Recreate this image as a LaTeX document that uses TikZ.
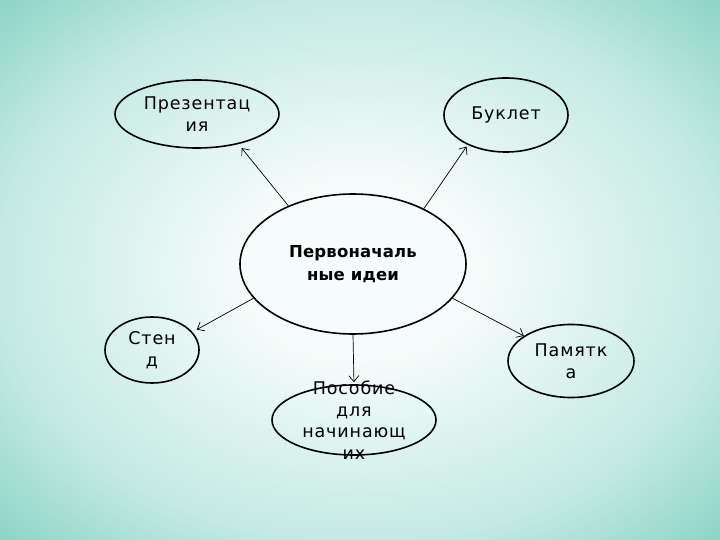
\documentclass[tikz,border=0pt]{standalone}
\usepackage{fontspec}
\setmainfont{DejaVu Sans}[LetterSpace=5]
\usepackage{tikz}
\usetikzlibrary{positioning, arrows.meta, shapes.geometric}
\definecolor{bg-in}{RGB}{246,252,251}
\definecolor{bg-mid}{RGB}{196,234,227}
\definecolor{bg-out}{RGB}{138,211,197}
\pgfdeclareradialshading{bgglow}{\pgfpoint{0bp}{0bp}}{color(0bp)=(bg-in); color(8bp)=(bg-in); color(25bp)=(bg-mid); color(36bp)=(bg-out); color(50bp)=(bg-out)}

\begin{document}
\begin{tikzpicture}[
    x=1pt, y=-1pt,
    bubble/.style={draw, ellipse, line width=1.6pt, inner sep=0pt, align=center,
                   font=\fontsize{17.5}{22}\selectfont},
    txt/.style={align=center, font=\fontsize{17.5}{21.5}\selectfont},
    arr/.style={-{Straight Barb[length=6pt, width=10pt]}, line width=0.7pt},
]
    % Background
    \shade[shading=bgglow] (0,0) rectangle (720,540);
    \useasboundingbox (0,0) rectangle (720,540);

    % Ideas
    \node[bubble, minimum width=226, minimum height=140,
          font=\fontsize{16.5}{23}\bfseries\addfontfeature{LetterSpace=1}] (main) at (353,264) {Первоначаль\\ные идеи};
    \node[bubble, minimum width=164, minimum height=68]  (pres)  at (197,114) {Презентац\\ия};
    \node[bubble, minimum width=124, minimum height=74]  (bukl)  at (506,115) {Буклет};
    \node[bubble, minimum width=94,  minimum height=66]  (stend) at (152,350) {Стен\\д};
    \node[bubble, minimum width=126, minimum height=73]  (pam)   at (571,361) {Памятк\\а};
    \node[bubble, minimum width=164, minimum height=70]  (posob) at (354,420) {};
    \node[txt] (posobtxt) at (posob) {Пособие\\для\\начинающ\\их};

    % Arrows
    \draw[arr, shorten >=5pt] (main.138) -- (pres.-36);
    \draw[arr, shorten >=2pt] (main.38)  -- (bukl.218);
    \draw[arr, shorten >=5pt] (main.199) -- (stend.24);
    \draw[arr]                (main.-19) -- (pam.152);
    \draw[arr, shorten >=2pt] (main.south) -- (posob.north);
\end{tikzpicture}
\end{document}
